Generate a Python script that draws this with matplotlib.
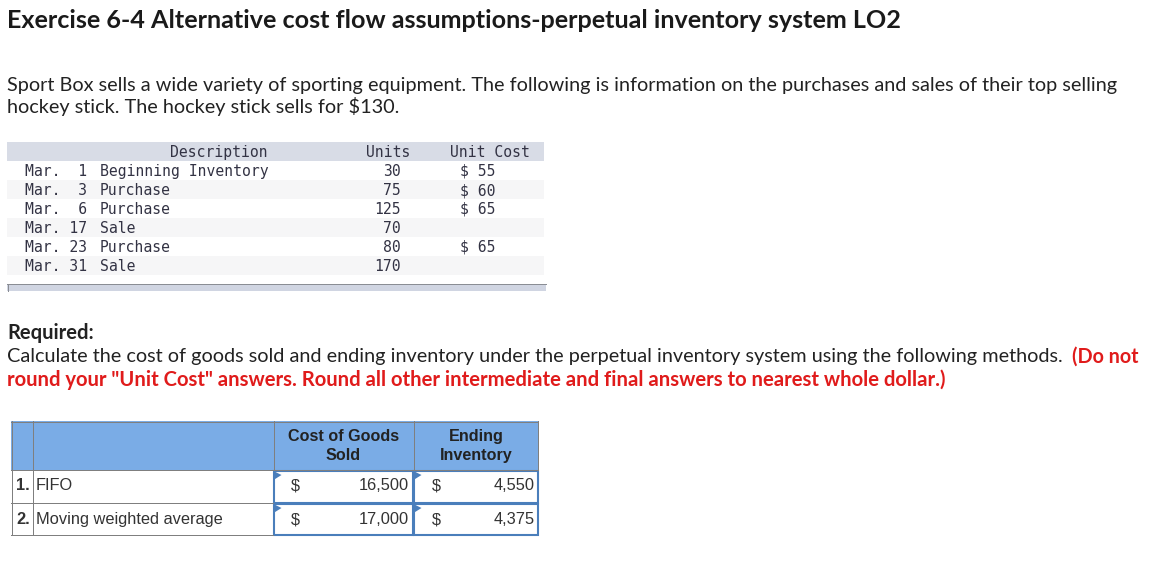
import matplotlib
matplotlib.use("Agg")
import matplotlib.pyplot as plt
from matplotlib.patches import Rectangle, Polygon

title = "Exercise 6-4 Alternative cost flow assumptions-perpetual inventory system LO2"
intro = ["Sport Box sells a wide variety of sporting equipment. The following is information on the purchases and sales of their top selling",
         "hockey stick. The hockey stick sells for $130."]
required = "Required:"
task = "Calculate the cost of goods sold and ending inventory under the perpetual inventory system using the following methods."
warn = ["(Do not", "round your \"Unit Cost\" answers. Round all other intermediate and final answers to nearest whole dollar.)"]

dates = ["Mar.  1", "Mar.  3", "Mar.  6", "Mar. 17", "Mar. 23", "Mar. 31"]
descriptions = ["Beginning Inventory", "Purchase", "Purchase", "Sale", "Purchase", "Sale"]
units = [30, 75, 125, 70, 80, 170]
unit_costs = [55, 60, 65, None, 65, None]

methods = ["FIFO", "Moving weighted average"]
cogs = [16500, 17000]
ending = [4550, 4375]

TEXT = "#222222"
SANS = "Lato"
MONO = "DejaVu Sans Mono"
PX = 0.72  # one pixel in points at dpi 100

fig = plt.figure(figsize=(11.72, 5.65), dpi=100)
ax = fig.add_axes([0, 0, 1, 1])
ax.set_xlim(0, 1172)
ax.set_ylim(565, 0)
ax.axis("off")


def put(x, y, s, **kw):
    kw.setdefault("color", TEXT)
    kw.setdefault("va", "center")
    kw.setdefault("family", SANS)
    return ax.text(x, y, s, **kw)


def box(x, y, w, h, **kw):
    ax.add_patch(Rectangle((x, y), w, h, **kw))


def mono(x, y, s, **kw):
    # y is the baseline, so the rows stay evenly spaced
    put(x, y, s, family=MONO, fontsize=10.6, color="#333344", va="baseline", **kw)


# Heading and question text
put(7, 20, title, fontsize=18.1, fontweight="bold", color="#1a1a1a")
put(7, 85, intro[0], fontsize=14.32)
put(7, 106, intro[1], fontsize=14.32)
put(7, 333, required, fontsize=14.5, fontweight="bold")
put(7, 356.5, task, fontsize=14.35)
put(1072, 356.5, warn[0], fontsize=14.2, fontweight="bold", color="#e01b1b")
put(7, 379.5, warn[1], fontsize=14.6, fontweight="bold", color="#e01b1b")

# Purchases table
box(7, 142, 537, 19, fc="#d8dce6", ec="none")
for i in range(len(dates)):
    y = 161 + 19 * i
    if i % 2 == 1:
        box(7, y, 537, 19, fc="#f6f6f7", ec="none")
    base = y + 15
    mono(25, base, dates[i])
    mono(100, base, descriptions[i])
    mono(401, base, str(units[i]), ha="right")
    if unit_costs[i] is not None:
        mono(496, base, "$ %d" % unit_costs[i], ha="right")
mono(219, 157, "Description", ha="center")
mono(388, 157, "Units", ha="center")
mono(490, 157, "Unit Cost", ha="center")

# Scroll bar strip under the table
box(7, 284, 539, 7, fc="#d0d5e2", ec="none")
ax.plot([7, 546], [283.5, 283.5], color="#8a8d94", lw=PX)
ax.plot([7.5, 7.5], [283.5, 291], color="#8a8d94", lw=PX)

# Answer table
GRID = "#7f7f7f"
BLUE = "#4a7ebb"
box(11, 421, 527, 49, fc="#7aace6", ec="none")
rows = [(470, 33), (503, 32)]
for x in [11.5, 32.5, 273.5, 413.5, 537.5]:
    ax.plot([x, x], [421, 470], color=GRID, lw=PX)
for x in [11.5, 32.5]:
    ax.plot([x, x], [470, 535], color=GRID, lw=PX)
for y in [421.5, 469.5, 502.5, 534.5]:
    ax.plot([11, 273], [y, y], color=GRID, lw=PX)
ax.plot([273, 538], [421.5, 421.5], color=GRID, lw=PX)
ax.plot([273, 538], [469.5, 469.5], color=GRID, lw=PX)
put(343.5, 446, "Cost of Goods\nSold", family="Liberation Sans", fontsize=11.6,
    fontweight="bold", ha="center", linespacing=1.3)
put(476, 446, "Ending\nInventory", family="Liberation Sans", fontsize=11.6,
    fontweight="bold", ha="center", linespacing=1.3)

for i in range(len(methods)):
    y0, h = rows[i]
    base = y0 + 20 + i
    put(16, base, "%d." % (i + 1), family="Liberation Sans", fontsize=11.8, fontweight="bold",
        color="#333333", va="baseline")
    put(36, base, methods[i], family="Liberation Sans", fontsize=11.8, color="#333333", va="baseline")
    for x0, w, dollar, right, val in [(273.5, 139.5, 295, 409, cogs[i]), (413.5, 124.5, 436, 535, ending[i])]:
        box(x0 + 0.5, y0 + 0.5, w - 1, h - 1, fc="white", ec=BLUE, lw=1.5)
        ax.add_patch(Polygon([(x0, y0 + 1), (x0 + 8, y0 + 5), (x0, y0 + 10)], fc=BLUE, ec="none", zorder=3))
        put(dollar, base, "$", family="Liberation Sans", fontsize=11.8, color="#333333", ha="center", va="baseline")
        put(right, base, format(val, ","), family="Liberation Sans", fontsize=11.8, color="#333333",
            ha="right", va="baseline")

fig.savefig("out.png", dpi=100)
